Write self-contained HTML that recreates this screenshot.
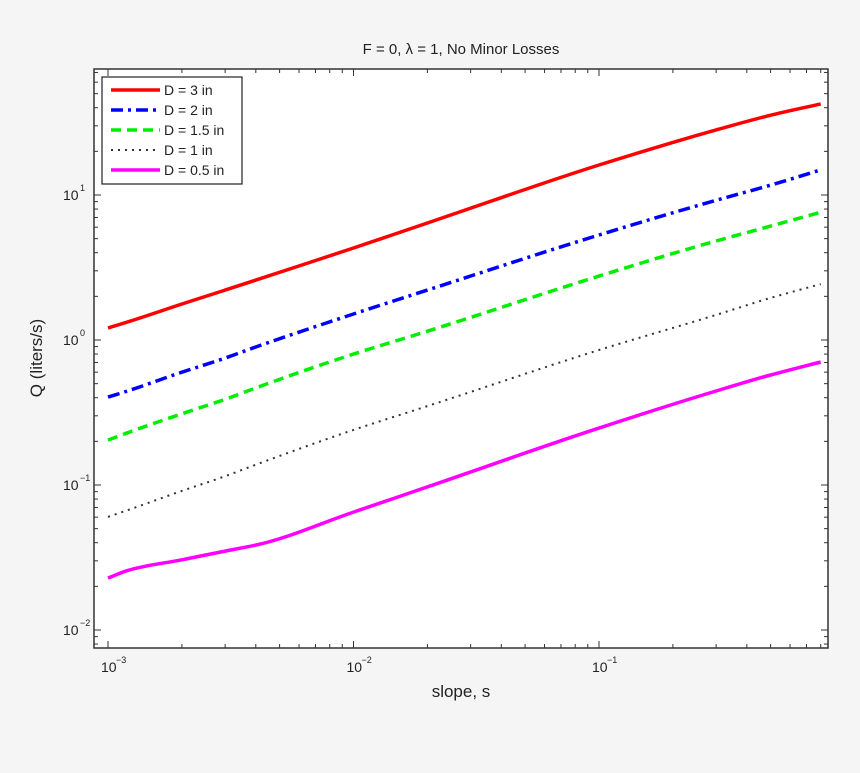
<!DOCTYPE html>
<html><head><meta charset="utf-8"><style>
body{margin:0;background:#f5f5f5;}
svg text{font-family:"Liberation Sans",sans-serif;fill:#222;}
</style></head><body>
<svg id="c" width="860" height="768"></svg>
<script>
const xs = [0.001, 0.0012, 0.002, 0.003, 0.004, 0.01, 0.02, 0.1, 0.3, 0.5, 0.8];
const seriesNames = ["D = 3 in","D = 2 in","D = 1.5 in","D = 1 in","D = 0.5 in"];
const red   = [1.21, 1.33, 1.77, 2.21, 2.59, 4.31, 6.41, 16.1, 28.1, 35.5, 42.5];
const blue  = [0.404, 0.445, 0.60, 0.75, 0.895, 1.51, 2.21, 5.3, 9.2, 11.7, 14.9];
const green = [0.204, 0.229, 0.31, 0.39, 0.467, 0.80, 1.15, 2.76, 4.82, 6.1, 7.6];
const black = [0.0603, 0.067, 0.091, 0.115, 0.138, 0.24, 0.35, 0.853, 1.49, 1.95, 2.43];
const magenta=[0.0228, 0.0257, 0.0305, 0.035, 0.0385, 0.065, 0.097, 0.247, 0.445, 0.574, 0.705];
const xTicks = [-3,-2,-1];
const yTicks = [-2,-1,0,1];

const NS="http://www.w3.org/2000/svg";
const svg=document.getElementById('c');
const L=94,R=828,T=69,B=648;
const X=v=>108+(Math.log10(v)+3)*245.5;
const Y=v=>340-Math.log10(v)*145;
function el(t,a,p){const e=document.createElementNS(NS,t);for(const k in a)e.setAttribute(k,a[k]);(p||svg).appendChild(e);return e;}
function smooth(pts){
  const n=pts.length,dx=[],m=[],t=[];
  for(let i=0;i<n-1;i++){dx.push(pts[i+1][0]-pts[i][0]);m.push((pts[i+1][1]-pts[i][1])/dx[i]);}
  t[0]=m[0];t[n-1]=m[n-2];
  for(let i=1;i<n-1;i++){t[i]=(m[i-1]*m[i]<=0)?0:(dx[i-1]+dx[i])/( (dx[i-1])/m[i] + (dx[i])/m[i-1] );}
  let d='M'+pts[0][0].toFixed(1)+','+pts[0][1].toFixed(1);
  for(let i=0;i<n-1;i++){const h=dx[i]/3;
    d+=' C'+(pts[i][0]+h).toFixed(1)+','+(pts[i][1]+t[i]*h).toFixed(1)+' '+(pts[i+1][0]-h).toFixed(1)+','+(pts[i+1][1]-t[i+1]*h).toFixed(1)+' '+pts[i+1][0].toFixed(1)+','+pts[i+1][1].toFixed(1);}
  return d;
}
const bg=el('rect',{x:L,y:T,width:R-L,height:B-T,fill:'#fff'});


const tg=el('g',{stroke:'#333','stroke-width':1});


for(let d=-3;d<=-1;d++)for(let m=1;m<10;m++){const v=m*Math.pow(10,d);const x=X(v);if(x<L||x>R)continue;const len=m==1?7:4;
 el('line',{x1:x,y1:B,x2:x,y2:B-len},tg);el('line',{x1:x,y1:T,x2:x,y2:T+len},tg);}
for(let d=-3;d<=1;d++)for(let m=1;m<10;m++){const v=m*Math.pow(10,d);const y=Y(v);if(y<T||y>B)continue;const len=m==1?7:4;
 el('line',{x1:L,y1:y,x2:L+len,y2:y},tg);el('line',{x1:R,y1:y,x2:R-len,y2:y},tg);}
xTicks.forEach(e=>{const t=el('text',{x:X(Math.pow(10,e))-7,y:672,'font-size':14});t.textContent='10';
 
 const s=el('text',{x:X(Math.pow(10,e))+8,y:663,'font-size':9});s.textContent=String(e).replace('-','\u2212');});
yTicks.forEach(e=>{const y=Y(Math.pow(10,e));const t=el('text',{x:63,y:y+5,'font-size':14});t.textContent='10';
 
 const s=el('text',{x:80,y:y-4,'font-size':9});s.textContent=String(e).replace('-','\u2212');});
const styles=[['#ff0000',red,''],['#0000ff',blue,'12,5,3,5'],['#00ee00',green,'10,6'],['#333',black,'2,5'],['#ff00ff',magenta,'']];
styles.forEach((s,i)=>{const pts=xs.map((x,j)=>[X(x),Y(s[1][j])]);
 const p=el('path',{d:smooth(pts),fill:'none',stroke:s[0],'stroke-width':i==3?2:3.5,'stroke-dasharray':s[2],'stroke-linejoin':'round'});
 });
el('rect',{x:L,y:T,width:R-L,height:B-T,fill:'none',stroke:'#333','stroke-width':1.5});
const lg=el('g',{});


el('rect',{x:102,y:77,width:140,height:107,fill:'#fff',stroke:'#222','stroke-width':1.2},lg);
styles.forEach((s,i)=>{const y=90+i*20;
 el('line',{x1:111,y1:y,x2:160,y2:y,stroke:s[0],'stroke-width':i==3?2:3.5,'stroke-dasharray':s[2]},lg);
 const t=el('text',{x:164,y:y+5,'font-size':14},lg);t.textContent=seriesNames[i];
 });
const ti=el('text',{x:461,y:54,'font-size':15,'text-anchor':'middle'});ti.textContent='F = 0, \u03bb = 1, No Minor Losses';

const xl=el('text',{x:461,y:697,'font-size':17,'text-anchor':'middle'});xl.textContent='slope, s';

const yl=el('text',{x:0,y:0,'font-size':17,'text-anchor':'middle',transform:'translate(42,358) rotate(-90)'});yl.textContent='Q (liters/s)';

</script>
</body></html>
